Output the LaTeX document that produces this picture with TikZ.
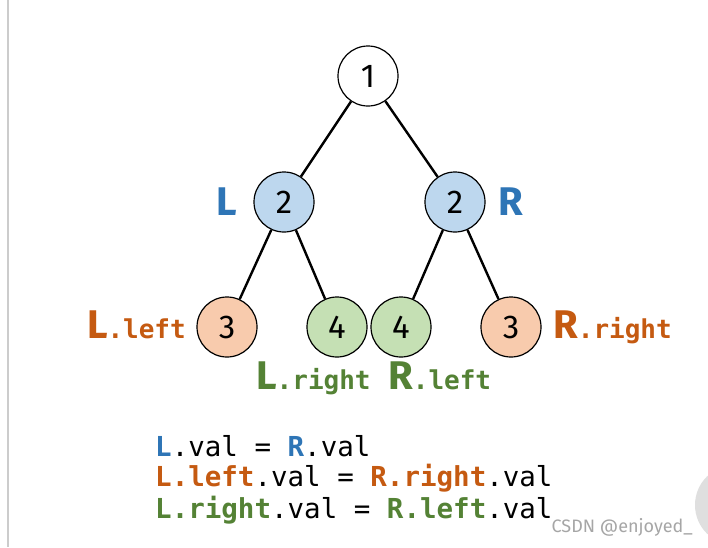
\documentclass[tikz,border=0pt]{standalone}
\usepackage{fontspec}
\setmainfont{Fira Sans}
\newfontfamily\mono{DejaVu Sans Mono}
\definecolor{cb}{HTML}{2E75B6}\definecolor{co}{HTML}{C55A11}\definecolor{cg}{HTML}{548235}
\definecolor{fb}{HTML}{BDD7EE}\definecolor{fo}{HTML}{F8CBAD}\definecolor{fg}{HTML}{C5E0B4}
\begin{document}
\begin{tikzpicture}[x=1pt,y=-1pt,
  nd/.style={circle,draw=black,line width=1.2pt,minimum size=60pt,inner sep=0pt,font=\fontsize{33}{33}\selectfont},
  lab/.style={font=\bfseries\fontsize{40}{40}\selectfont,inner sep=0pt},
  suf/.style={},
  eq/.style={font=\mono\fontsize{27.5}{31}\selectfont,anchor=west,inner sep=0pt},
  ed/.style={line width=2.4pt}]
\newcommand{\sfx}[1]{{\mono\fontsize{26}{26}\selectfont #1}}
\useasboundingbox (0,0) rectangle (708,547);
\fill[white] (0,0) rectangle (708,547);
\draw[gray!40,line width=1.5pt] (8,0) -- (8,547);
\fill[gray!25] (735,505) circle (40);
\node[nd,fill=white] (n1) at (368,76) {1};
\node[nd,fill=fb] (l) at (284,202) {2};
\node[nd,fill=fb] (r) at (455,202) {2};
\node[nd,fill=fo] (ll) at (227,327) {3};
\node[nd,fill=fg] (lr) at (337,327) {4};
\node[nd,fill=fg] (rl) at (401,327) {4};
\node[nd,fill=fo] (rr) at (511,327) {3};
\draw[ed] (n1)--(l); \draw[ed] (n1)--(r);
\draw[ed] (l)--(ll); \draw[ed] (l)--(lr);
\draw[ed] (r)--(rl); \draw[ed] (r)--(rr);
\node[lab,text=cb] (tl) at (227,202) {L};
\node[lab,text=cb] (tr) at (511,202) {R};
\node[lab,text=co,anchor=base east] (tll) at (186,338) {L\sfx{.left}};
\node[lab,text=co,anchor=base west] (trr) at (553,338) {R\sfx{.right}};
\node[lab,text=cg,anchor=base west] (tlr) at (256,389) {L\sfx{.right}};
\node[lab,text=cg,anchor=base west] (trl) at (388,389) {R\sfx{.left}};
\node[eq] (e1) at (155,446) {\textcolor{cb}{\bfseries L}.val = \textcolor{cb}{\bfseries R}.val};
\node[eq] (e2) at (155,478) {\textcolor{co}{\bfseries L.left}.val = \textcolor{co}{\bfseries R.right}.val};
\node[eq] (e3) at (155,510) {\textcolor{cg}{\bfseries L.right}.val = \textcolor{cg}{\bfseries R.left}.val};
\node[anchor=east,text=gray!70,font=\fontsize{18}{18}\selectfont,inner sep=0pt] (wm) at (693,527) {CSDN @enjoyed\_};
\end{tikzpicture}
\end{document}
